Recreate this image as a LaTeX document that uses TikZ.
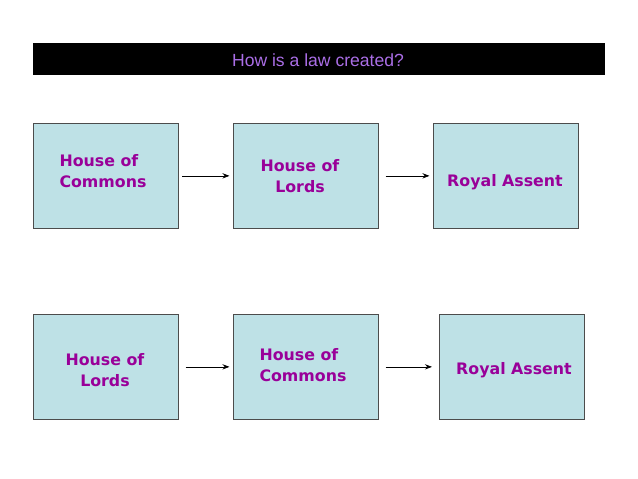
\documentclass[tikz,border=0pt]{standalone}
\usepackage{fontspec}
\setmainfont{Liberation Sans}
\newfontfamily\boxfont{DejaVu Sans}
\usetikzlibrary{arrows.meta}
\definecolor{lawpurple}{RGB}{153,0,153}
\definecolor{titlepurple}{RGB}{170,110,230}
\definecolor{boxblue}{RGB}{190,225,230}
\tikzset{
  house/.style={draw=black!70,fill=boxblue,minimum width=2.9cm,minimum height=2.1cm,anchor=north west,inner sep=0pt},
  label/.style={text=lawpurple,font=\boxfont\bfseries\fontsize{9}{12}\selectfont,align=center},
  passes/.style={-{Stealth[length=4pt,width=3pt]},thin}
}
\begin{document}
\begin{tikzpicture}[x=0.02cm,y=-0.02cm]
\useasboundingbox (0,0) rectangle (638,478);

\fill[black](33,43) rectangle (605,75);
\node[text=titlepurple,font=\fontsize{10}{12}\selectfont] (title) at (318,60) {How is a law created?};

% first way
\node[house] (c1) at (33,123) {};
\node[house] (l1) at (233,123) {};
\node[house] (r1) at (433,123) {};
\node[label,align=left] (tc1) at (103,171) {House of\\Commons};
\node[label] (tl1) at (300,176) {House of\\Lords};
\node[label] (tr1) at (505,182) {Royal Assent};
\draw[passes,shorten <=2pt,shorten >=2pt] (c1.east) -- (l1.west);
\draw[passes,shorten <=4pt,shorten >=2pt] (l1.east) -- (r1.west);

% second way
\node[house] (l2) at (33,314) {};
\node[house] (c2) at (233,314) {};
\node[house] (r2) at (439,314) {};
\node[label] (tl2) at (105,370) {House of\\Lords};
\node[label,align=left] (tc2) at (303,365) {House of\\Commons};
\node[label] (tr2) at (514,370) {Royal Assent};
\draw[passes,shorten <=4pt,shorten >=2pt] (l2.east) -- (c2.west);
\draw[passes,shorten <=4pt,shorten >=4pt] (c2.east) -- (r2.west);

\end{tikzpicture}
\end{document}
